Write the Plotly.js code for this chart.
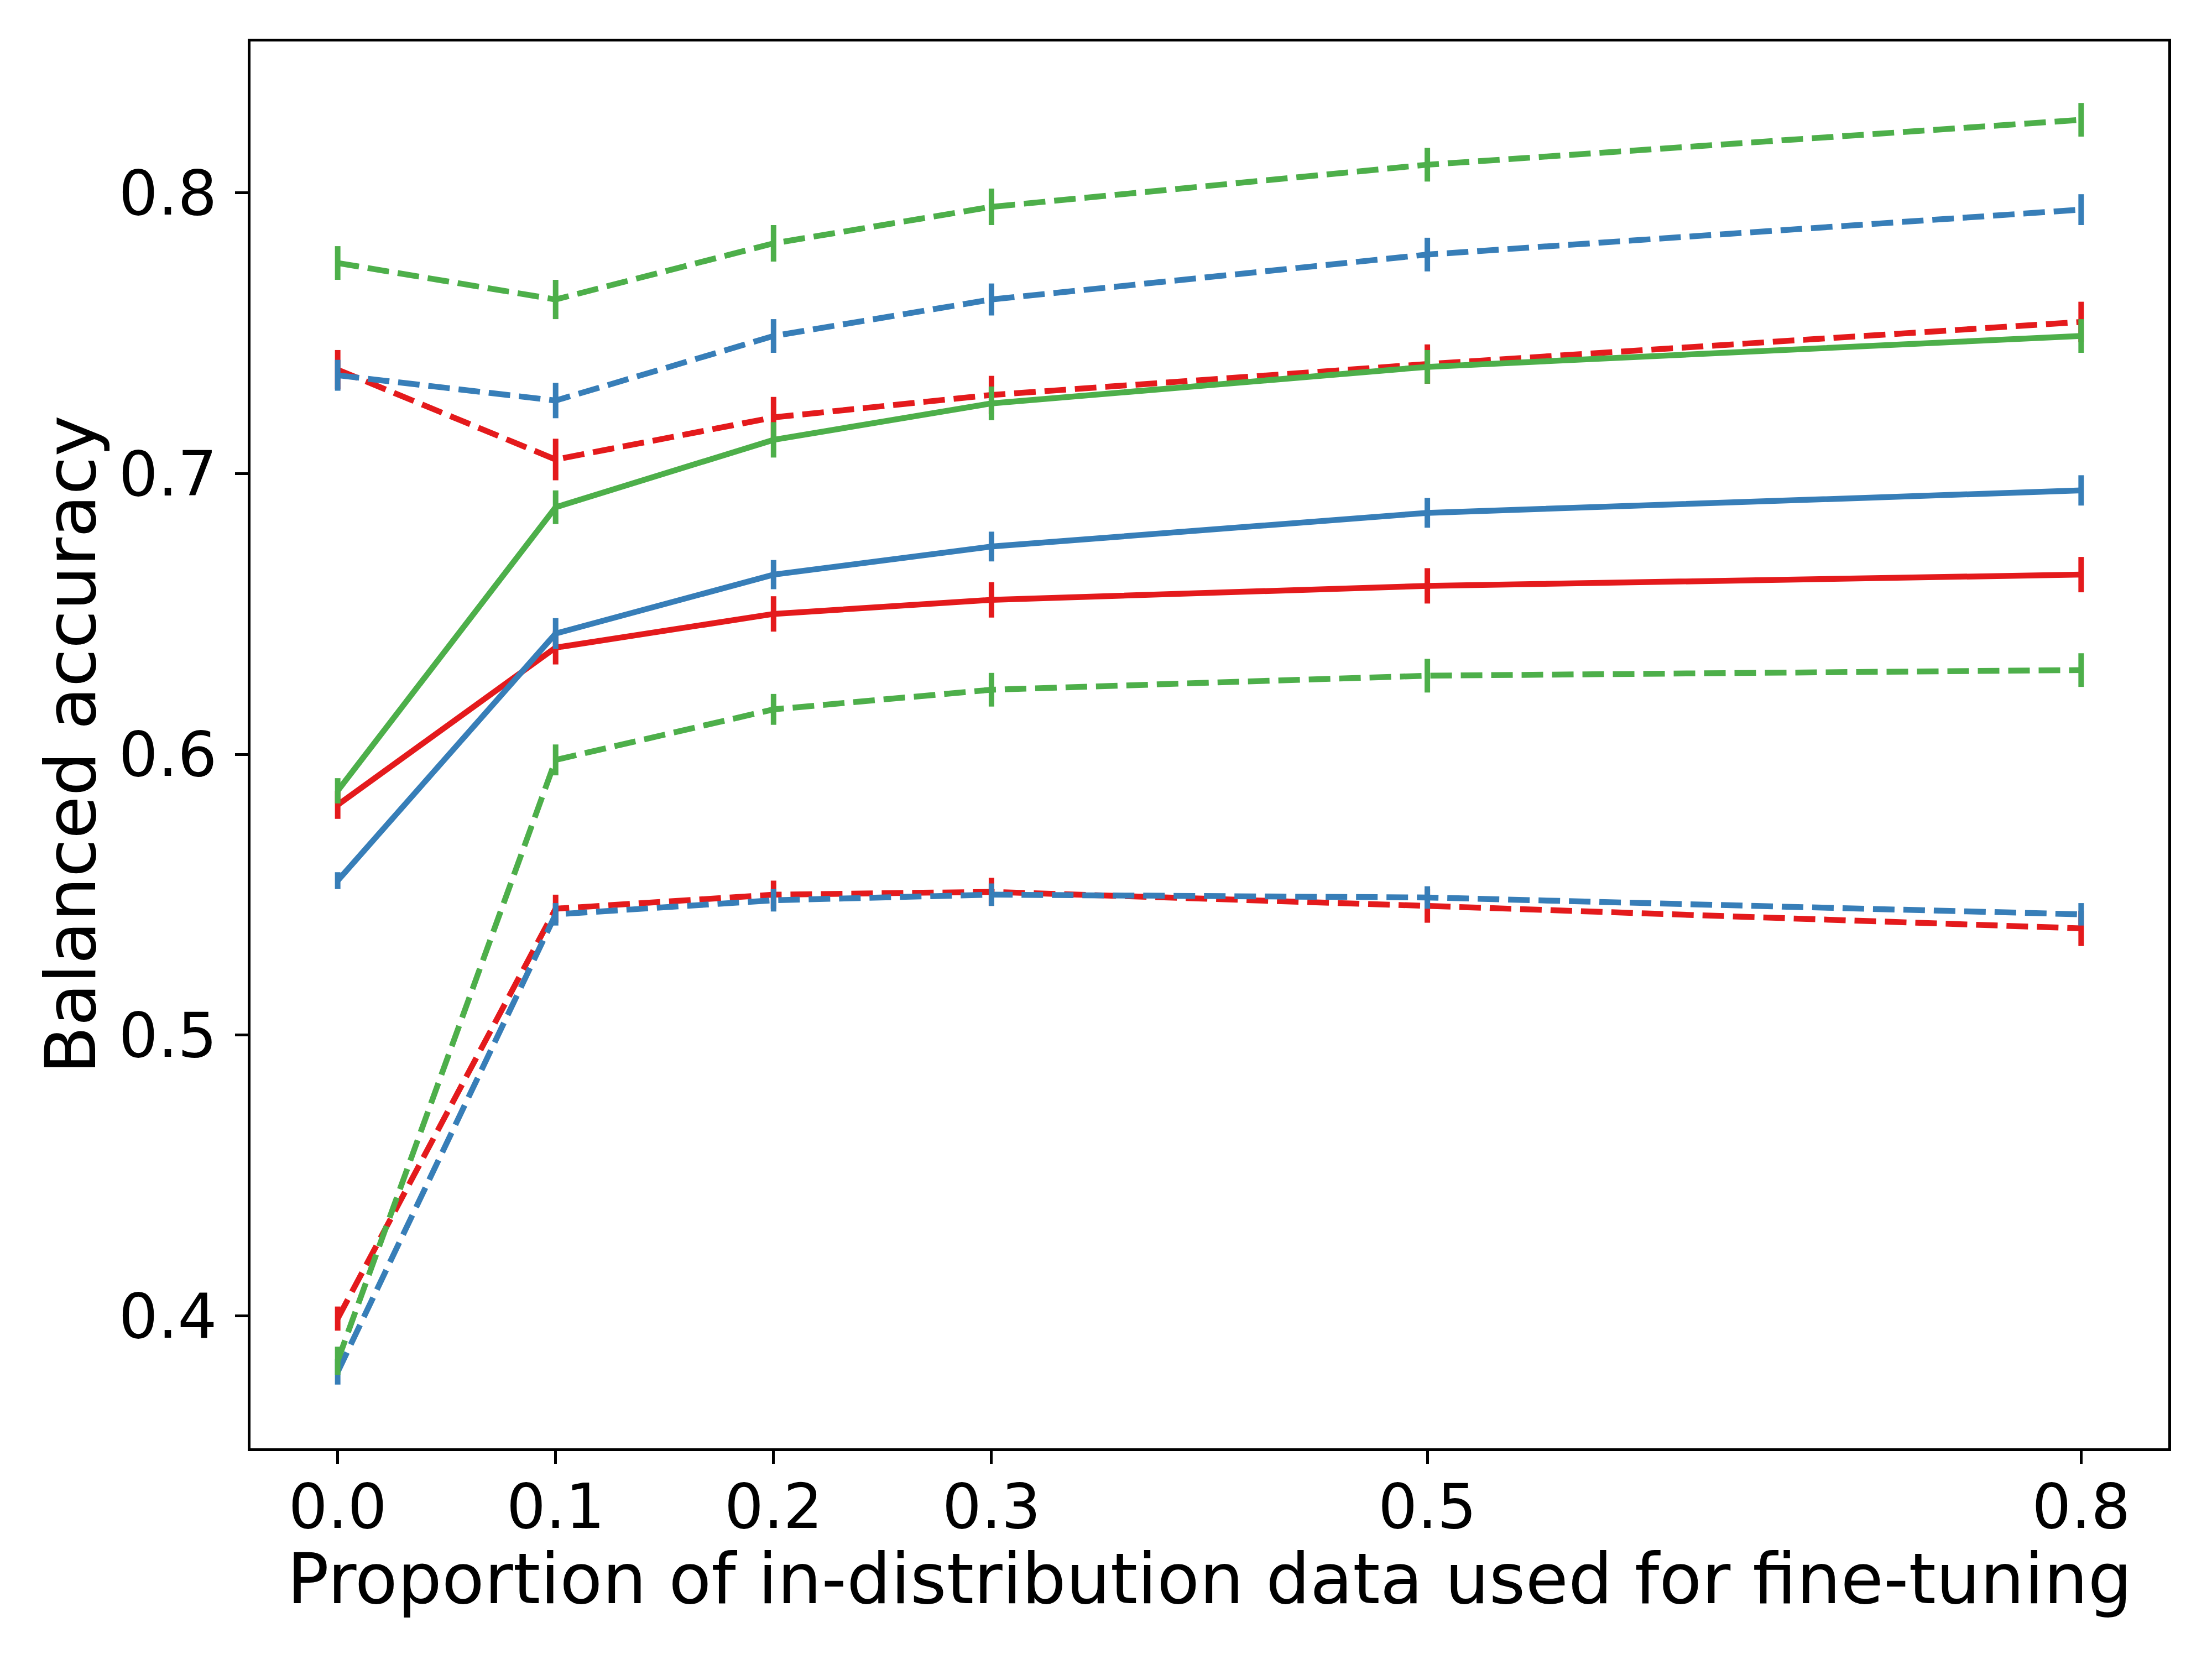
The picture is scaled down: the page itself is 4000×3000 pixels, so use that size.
<!DOCTYPE html>
<html>
<head>
<meta charset="utf-8">
<script src="https://cdn.plot.ly/plotly-3.0.1.min.js"></script>
<style>html,body{margin:0;padding:0;background:#fff;}</style>
</head>
<body>
<div id="chart" style="width:4000px;height:3000px;"></div>
<script>
const xVals = [0.0, 0.1, 0.2, 0.3, 0.5, 0.8];
const xTickText = ["0.0", "0.1", "0.2", "0.3", "0.5", "0.8"];
const yTickVals = [0.4, 0.5, 0.6, 0.7, 0.8];
const yTickText = ["0.4", "0.5", "0.6", "0.7", "0.8"];
const xTitle = "Proportion of in-distribution data used for fine-tuning";
const yTitle = "Balanced accuracy";

const redSolid = [0.582, 0.638, 0.650, 0.655, 0.660, 0.664];
const redSolidErr = [0.005, 0.006, 0.0063, 0.0063, 0.0063, 0.0063];
const redDashHi = [0.737, 0.705, 0.720, 0.728, 0.739, 0.754];
const redDashHiErr = [0.007, 0.0074, 0.0073, 0.0068, 0.007, 0.0072];
const redDashLo = [0.399, 0.545, 0.550, 0.551, 0.546, 0.538];
const redDashLoErr = [0.0043, 0.005, 0.005, 0.005, 0.006, 0.0063];

const blueSolid = [0.555, 0.643, 0.664, 0.674, 0.686, 0.694];
const blueSolidErr = [0.003, 0.0055, 0.0052, 0.0053, 0.0053, 0.0054];
const blueDashHi = [0.735, 0.726, 0.749, 0.762, 0.778, 0.794];
const blueDashHiErr = [0.0055, 0.0063, 0.006, 0.0057, 0.006, 0.0055];
const blueDashLo = [0.380, 0.543, 0.548, 0.550, 0.549, 0.543];
const blueDashLoErr = [0.0045, 0.004, 0.004, 0.004, 0.004, 0.004];

const greenSolid = [0.587, 0.688, 0.712, 0.725, 0.738, 0.749];
const greenSolidErr = [0.0045, 0.006, 0.0063, 0.006, 0.006, 0.006];
const greenDashHi = [0.775, 0.762, 0.782, 0.795, 0.810, 0.826];
const greenDashHiErr = [0.006, 0.007, 0.0065, 0.0065, 0.006, 0.006];
const greenDashLo = [0.384, 0.598, 0.616, 0.623, 0.628, 0.630];
const greenDashLoErr = [0.005, 0.0055, 0.0055, 0.006, 0.006, 0.006];

const RED = "#e41a1c", BLUE = "#377eb8", GREEN = "#4daf4a";
const LW = 10.5, DASH = "39px,16px";

function tr(y, err, color, dashed) {
  return {
    x: xVals, y: y, type: "scatter", mode: "lines",
    line: {color: color, width: LW, dash: dashed ? DASH : "solid"},
    error_y: {type: "data", array: err, visible: true, color: color, thickness: 10, width: 0},
    showlegend: false, hoverinfo: "skip"
  };
}

const data = [
  tr(redSolid, redSolidErr, RED, false),
  tr(redDashHi, redDashHiErr, RED, true),
  tr(redDashLo, redDashLoErr, RED, true),
  tr(blueSolid, blueSolidErr, BLUE, false),
  tr(blueDashHi, blueDashHiErr, BLUE, true),
  tr(blueDashLo, blueDashLoErr, BLUE, true),
  tr(greenSolid, greenSolidErr, GREEN, false),
  tr(greenDashHi, greenDashHiErr, GREEN, true),
  tr(greenDashLo, greenDashLoErr, GREEN, true)
];

const FONT = "DejaVu Sans";
const layout = {
  width: 4000, height: 3000,
  paper_bgcolor: "#fff", plot_bgcolor: "#fff",
  margin: {l: 453, r: 79, t: 75, b: 381},
  font: {family: FONT, color: "#000"},
  showlegend: false,
  xaxis: {
    range: [-0.04, 0.84],
    tickvals: xVals, ticktext: xTickText,
    ticks: "outside", ticklen: 23, tickwidth: 5, tickcolor: "#000",
    showline: true, linecolor: "#000", linewidth: 5, mirror: true,
    showgrid: false, zeroline: false,
    tickfont: {family: FONT, size: 112, color: "#000"},
    ticklabelstandoff: -18
  },
  yaxis: {
    range: [0.3528, 0.8539],
    tickvals: yTickVals, ticktext: yTickText,
    ticks: "outside", ticklen: 23, tickwidth: 5, tickcolor: "#000",
    showline: true, linecolor: "#000", linewidth: 5, mirror: true,
    showgrid: false, zeroline: false,
    tickfont: {family: FONT, size: 112, color: "#000"},
    ticklabelstandoff: 10
  },
  annotations: [
    {text: xTitle, xref: "paper", yref: "paper", x: 0.5, y: -0.0928,
     xanchor: "center", yanchor: "middle", showarrow: false,
     font: {family: FONT, size: 126, color: "#000"}},
    {text: yTitle, xref: "paper", yref: "paper", x: -0.0937, y: 0.5,
     xanchor: "center", yanchor: "middle", showarrow: false, textangle: -90,
     font: {family: FONT, size: 126, color: "#000"}}
  ]
};

Plotly.newPlot("chart", data, layout, {staticPlot: true, displayModeBar: false});
</script>
</body>
</html>
